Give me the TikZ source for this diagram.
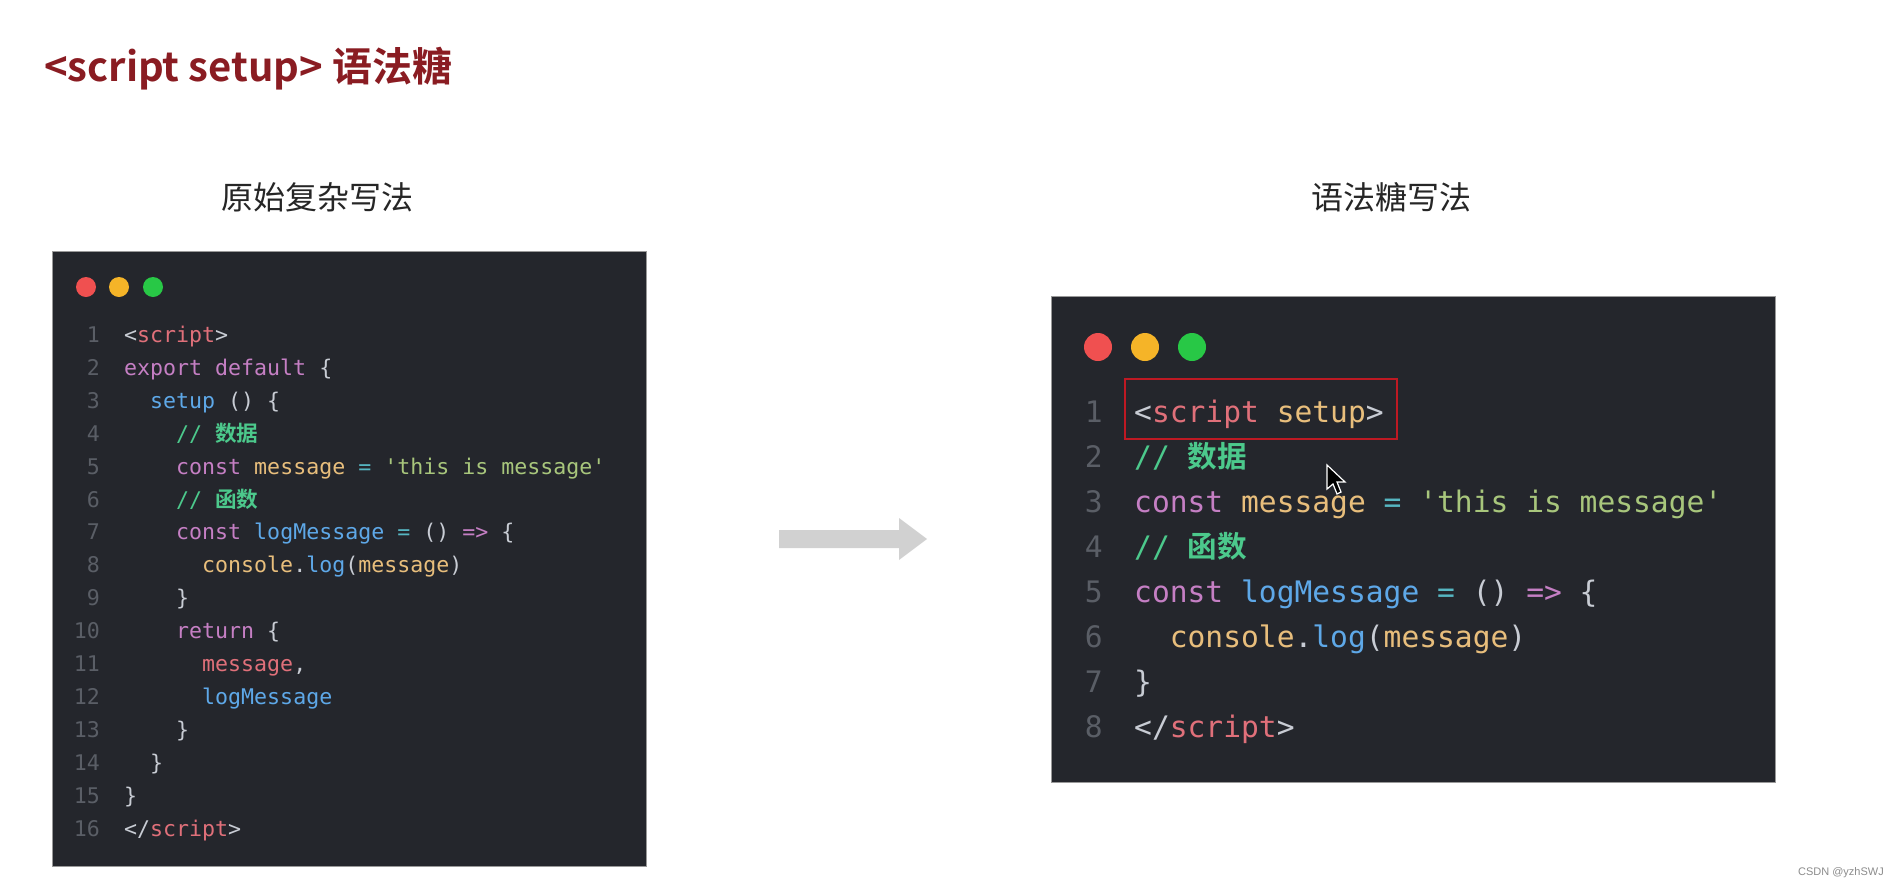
\documentclass[tikz,border=0pt]{standalone}
\usepackage{fontspec}
\usepackage{xcolor}
\newfontfamily\cjk{Noto Sans CJK SC}
\newfontfamily\cjkb{Noto Sans CJK SC}[BoldFont={* Bold}]
\newfontfamily\codef{DejaVu Sans Mono}
\definecolor{bg}{HTML}{24262C}
\definecolor{kw}{HTML}{C57FC4}
\definecolor{tg}{HTML}{E0707A}
\definecolor{fn}{HTML}{5EA8E8}
\definecolor{cm}{HTML}{4CC98C}
\definecolor{st}{HTML}{A8C67C}
\definecolor{vr}{HTML}{E8BE7C}
\definecolor{pn}{HTML}{C8CCD4}
\definecolor{ln}{HTML}{5A5E66}
\definecolor{eq}{HTML}{56B6C2}
\definecolor{ttl}{HTML}{8A1C22}
\definecolor{dred}{HTML}{F05050}
\definecolor{dyel}{HTML}{F5B428}
\definecolor{dgrn}{HTML}{28C846}
\definecolor{hlred}{HTML}{BE1923}
\newcommand\cK[1]{\textcolor{kw}{#1}}
\newcommand\cT[1]{\textcolor{tg}{#1}}
\newcommand\cF[1]{\textcolor{fn}{#1}}
\newcommand\cC[1]{\textcolor{cm}{#1}}
\newcommand\cS[1]{\textcolor{st}{#1}}
\newcommand\cV[1]{\textcolor{vr}{#1}}
\newcommand\cE[1]{\textcolor{eq}{#1}}
\newcommand\cJ[1]{{\cjkb\bfseries #1}}
\begin{document}
\begin{tikzpicture}[x=1pt,y=-1pt,
  lcode/.style={anchor=west,inner sep=0pt,text=pn,font=\codef\fontsize{21.6}{24}\selectfont,text height=0.75em,text depth=0.25em},
  rcode/.style={anchor=west,inner sep=0pt,text=pn,font=\codef\fontsize{29.6}{32}\selectfont,text height=0.75em,text depth=0.25em},
  lnum/.style={anchor=east,inner sep=0pt,text=ln,font=\codef\fontsize{21.6}{24}\selectfont,text height=0.75em,text depth=0.25em},
  rnum/.style={anchor=east,inner sep=0pt,text=ln,font=\codef\fontsize{29.6}{32}\selectfont,text height=0.75em,text depth=0.25em}]
\useasboundingbox[fill=white] (0,0) rectangle (1892,889);
% title
\node[anchor=west,inner sep=0pt,text=ttl,font=\cjkb\bfseries\fontsize{40}{44}\selectfont] (title) at (44,69) {<script setup> 语法糖};
\node[inner sep=0pt,font=\cjk\fontsize{32}{36}\selectfont,text=black!85] (subl) at (317,197) {原始复杂写法};
\node[inner sep=0pt,font=\cjk\fontsize{32}{36}\selectfont,text=black!85] (subr) at (1391,197) {语法糖写法};
% left box
\node[fill=bg,draw=black!40,line width=0.6pt,minimum width=594,minimum height=615,anchor=north west,inner sep=0pt] (lbox) at (52,251) {};
\fill[dred] (86,287) circle (10);
\fill[dyel] (119,287) circle (10);
\fill[dgrn] (153,287) circle (10);
\foreach \i in {1,...,16} {\node[lnum] (ln\i) at (100,{340+(\i-1)*32.9}) {\i};}
\node[lcode] (l1) at (124,340.0) {<\cT{script}>};
\node[lcode] (l2) at (124,372.9) {\cK{export default} \{};
\node[lcode] (l3) at (124,405.8) {~~\cF{setup} () \{};
\node[lcode] (l4) at (124,438.7) {~~~~\cC{// \cJ{数据}}};
\node[lcode] (l5) at (124,471.6) {~~~~\cK{const} \cV{message} \cE{=} \cS{'this is message'}};
\node[lcode] (l6) at (124,504.5) {~~~~\cC{// \cJ{函数}}};
\node[lcode] (l7) at (124,537.4) {~~~~\cK{const} \cF{logMessage} \cE{=} () \cK{=>} \{};
\node[lcode] (l8) at (124,570.3) {~~~~~~\cV{console}.\cF{log}(\cV{message})};
\node[lcode] (l9) at (124,603.2) {~~~~\}};
\node[lcode] (l10) at (124,636.1) {~~~~\cK{return} \{};
\node[lcode] (l11) at (124,669.0) {~~~~~~\cT{message},};
\node[lcode] (l12) at (124,701.9) {~~~~~~\cF{logMessage}};
\node[lcode] (l13) at (124,734.8) {~~~~\}};
\node[lcode] (l14) at (124,767.7) {~~\}};
\node[lcode] (l15) at (124,800.6) {\}};
\node[lcode] (l16) at (124,833.5) {</\cT{script}>};
% arrow
\fill[black!18] (779,530) -- (899,530) -- (899,518) -- (927,539) -- (899,560) -- (899,548) -- (779,548) -- cycle;
% right box
\node[fill=bg,draw=black!40,line width=0.6pt,minimum width=724,minimum height=486,anchor=north west,inner sep=0pt] (rbox) at (1051,296) {};
\fill[dred] (1098,347) circle (14);
\fill[dyel] (1145,347) circle (14);
\fill[dgrn] (1192,347) circle (14);
\foreach \i in {1,...,8} {\node[rnum] (rn\i) at (1103,{420+(\i-1)*45}) {\i};}
\node[rcode] (r1) at (1134,420) {<\cT{script} \cV{setup}>};
\node[rcode] (r2) at (1134,465) {\cC{// \cJ{数据}}};
\node[rcode] (r3) at (1134,510) {\cK{const} \cV{message} \cE{=} \cS{'this is message'}};
\node[rcode] (r4) at (1134,555) {\cC{// \cJ{函数}}};
\node[rcode] (r5) at (1134,600) {\cK{const} \cF{logMessage} \cE{=} () \cK{=>} \{};
\node[rcode] (r6) at (1134,645) {~~\cV{console}.\cF{log}(\cV{message})};
\node[rcode] (r7) at (1134,690) {\}};
\node[rcode] (r8) at (1134,735) {</\cT{script}>};
\draw[hlred,line width=2.5pt] (1125,379) rectangle (1397,439);
% cursor
\filldraw[fill=black,draw=white,line width=1.2pt] (1327,465) -- (1327,489) -- (1333,484) -- (1337,494) -- (1341,492) -- (1337,482) -- (1345,482) -- cycle;
% watermark
\node[anchor=east,inner sep=0pt,text=black!45,font=\fontspec{Liberation Sans}\fontsize{11}{12}\selectfont] (wm) at (1884,873) {CSDN @yzhSWJ};
\end{tikzpicture}
\end{document}
